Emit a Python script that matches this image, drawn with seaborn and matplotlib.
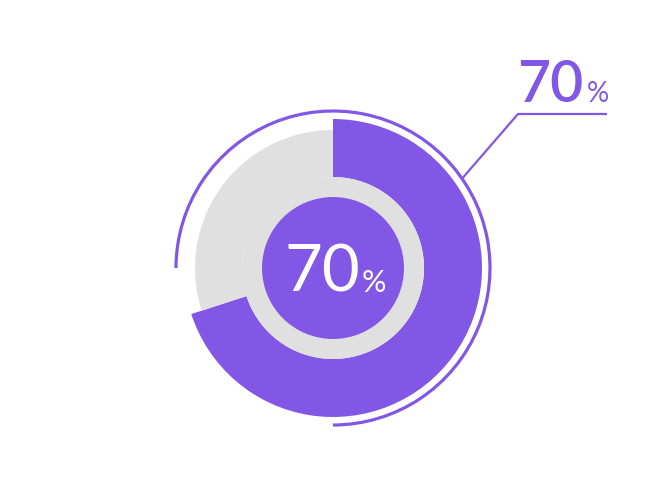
import numpy as np
import matplotlib
matplotlib.use("Agg")
import matplotlib.pyplot as plt
from matplotlib.patches import Arc, Circle
import seaborn as sns

sns.set_theme(style="white")
plt.rcParams['font.family'] = ['Lato', 'DejaVu Sans']

# data
labels = ['done', 'rest']
shares = [70, 30]
pct_text = f"{shares[0]}"

purple = '#8257e6'
gray = '#e0e0e0'

fig = plt.figure(figsize=(6.71, 5.0), dpi=100)
ax = fig.add_axes([0, 0, 1, 1])

cx, cy = 333, 232  # centre of the donut (pixels from bottom-left)

# outer purple wedge and shorter gray wedge
ax.pie(shares, colors=[purple, 'none'], radius=149, center=(cx, cy),
       startangle=90, counterclock=False, frame=True,
       wedgeprops=dict(width=58, linewidth=0))
ax.pie(shares, colors=['none', gray], radius=138, center=(cx, cy),
       startangle=90, counterclock=False, frame=True,
       wedgeprops=dict(width=47, linewidth=0))

# inner gray ring and purple core
ax.add_patch(Circle((cx, cy), 91, color=gray, lw=0))
ax.add_patch(Circle((cx, cy), 71, color=purple, lw=0))

# thin outer arc
ax.add_patch(Arc((cx, cy), 314, 314, theta1=-90, theta2=180,
                 color=purple, lw=2.3))

# leader line
ang = np.deg2rad(34.7)
x0, y0 = cx + 157 * np.cos(ang), cy + 157 * np.sin(ang)
ax.plot([x0, 518, 607], [y0, 386, 386], color=purple, lw=1.6,
        solid_capstyle='butt')

# labels
ax.text(517, 398, pct_text, color=purple, fontsize=41, fontweight='semibold',
        ha='left', va='baseline')
ax.text(587, 398, '%', color=purple, fontsize=20, fontweight='normal',
        ha='left', va='baseline')
ax.text(284, 208, pct_text, color='white', fontsize=47, fontweight='normal',
        ha='left', va='baseline')
ax.text(362, 208, '%', color='white', fontsize=22, fontweight='normal',
        ha='left', va='baseline')

ax.set_xlim(0, 671)
ax.set_ylim(0, 500)
ax.set_aspect('equal')
ax.axis('off')

fig.savefig('out.png', dpi=100, facecolor='white')
